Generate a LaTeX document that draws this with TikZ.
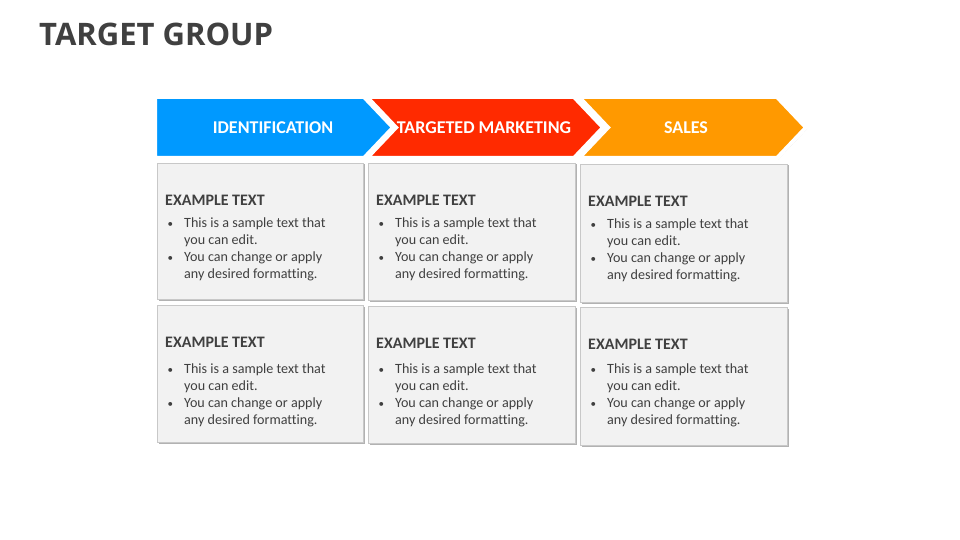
\documentclass[tikz,border=0pt]{standalone}
\usepackage{fontspec}
\setmainfont[Ligatures=NoCommon]{Carlito}
\newfontfamily\titlefont{Open Sans}
\usetikzlibrary{shadows}
\definecolor{txtgray}{HTML}{404040}
\definecolor{cblue}{HTML}{0099FF}
\definecolor{cred}{HTML}{FF2A00}
\definecolor{corange}{HTML}{FF9900}
\definecolor{boxfill}{HTML}{F2F2F2}
\definecolor{boxline}{HTML}{C8C8C8}
\tikzset{
  chev/.style={draw=white, line width=4pt, line join=miter,
    drop shadow={shadow xshift=1pt, shadow yshift=-1.5pt, opacity=0.25, fill=black}},
  chevtext/.style={text=white, font=\fontsize{18}{21}\selectfont\bfseries, anchor=center},
  cardbox/.style={fill=boxfill, draw=boxline, line width=0.8pt,
    drop shadow={shadow xshift=1.5pt, shadow yshift=-1.5pt, opacity=0.3, fill=black}},
  cardhead/.style={text=txtgray, font=\fontsize{16}{19}\selectfont\bfseries, anchor=base west, inner sep=0pt},
  cardline/.style={text=txtgray, font=\fontsize{14.1}{17}\selectfont, anchor=base west, inner sep=0pt},
  cardbullet/.style={text=txtgray, font=\fontsize{11}{17}\selectfont, anchor=base west, inner sep=0pt},
}
\begin{document}
\begin{tikzpicture}[x=1pt,y=-1pt]
\useasboundingbox (0,0) rectangle (960,540);
\fill[white] (0,0) rectangle (960,540);
\node[anchor=base west, inner sep=0pt, text=txtgray, font=\titlefont\fontsize{31}{36}\selectfont\bfseries] (title) at (39,46) {TARGET GROUP};

% chevrons
\filldraw[chev, fill=cblue] (155,97) -- (364,97) -- (393,127.5) -- (364,158) -- (155,158) -- cycle;
\filldraw[chev, fill=cred] (367,97) -- (574,97) -- (603,127.5) -- (574,158) -- (367,158) -- (396,127.5) -- cycle;
\filldraw[chev, fill=corange] (579,97) -- (777,97) -- (806,127.5) -- (777,158) -- (579,158) -- (608,127.5) -- cycle;
\node[chevtext] (h1) at (273,127.5) {IDENTIFICATION};
\node[chevtext] (h2) at (484,127.5) {TARGETED MARKETING};
\node[chevtext] (h3) at (686,127.5) {SALES};

% cards: left, right, top, bottom, heading offset, first line offset
\foreach \l/\r/\t/\b/\ho/\lo [count=\i] in {
  157/363/163/299/36/59, 368/575/163/300/36/59, 580/787/164/302/36/59,
  157/363/305/442/36/63, 368/575/306/443/36/62, 580/787/307/445/36/61}{
  \draw[cardbox] (\l,\t) rectangle (\r,\b);
  \node[cardhead] (ch\i) at (\l+8,\t+\ho+6.5) {EXAMPLE TEXT};
  \node[cardbullet] (b1\i) at (\l+10.5,\t+\lo+5) {•};
  \node[cardline] (l1\i) at (\l+27,\t+\lo+5.5) {This is a sample text that};
  \node[cardline] (l2\i) at (\l+27,\t+\lo+22.5) {you can edit.};
  \node[cardbullet] (b2\i) at (\l+10.5,\t+\lo+39) {•};
  \node[cardline] (l3\i) at (\l+27,\t+\lo+39.5) {You can change or apply};
  \node[cardline] (l4\i) at (\l+27,\t+\lo+56.5) {any desired formatting.};
}
\end{tikzpicture}
\end{document}
